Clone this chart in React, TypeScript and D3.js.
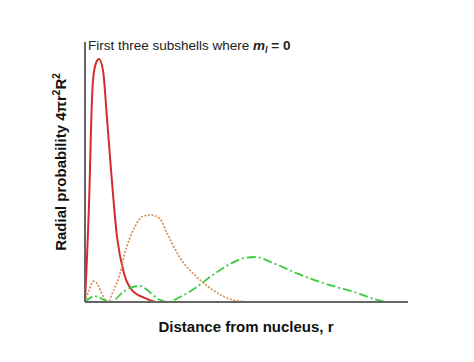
import { useEffect, useRef } from 'react';
import * as d3 from 'd3';

// r in units of a0, probability normalised to the 1s peak scale
const r1s = [0, 0.3, 0.52, 0.59, 0.82, 1.04, 1.34, 1.63, 1.93, 2.38, 2.9, 3.49, 4.46, 5.2];
const p1s = [0, 0.38, 0.78, 0.85, 0.92, 0.935, 0.89, 0.71, 0.51, 0.25, 0.11, 0.046, 0.015, 0];

const r2s = [0, 0.3, 0.67, 0.97, 1.26, 1.71, 2.08, 2.53, 2.97, 3.71, 4.31, 4.9, 5.57, 6.09, 7.06, 8.32, 9.51, 11.0, 12.26];
const p2s = [0, 0.046, 0.08, 0.065, 0.03, 0, 0.04, 0.096, 0.19, 0.29, 0.33, 0.335, 0.32, 0.265, 0.17, 0.096, 0.046, 0.008, 0];

const r3s = [0, 0.37, 0.67, 1.26, 1.86, 2.3, 2.75, 3.34, 4.01, 4.53, 5.05, 5.57, 6.09, 7.06, 8.32, 9.29, 10.77, 11.89, 12.63, 13.97, 15.75, 18.2, 20.2, 21.7, 22.4];
const p3s = [0, 0.015, 0.023, 0.012, 0, 0.012, 0.035, 0.054, 0.062, 0.05, 0.027, 0.008, 0, 0.019, 0.058, 0.096, 0.146, 0.17, 0.173, 0.15, 0.11, 0.065, 0.035, 0.008, 0];

const series = [
  { name: '1s', r: r1s, p: p1s, color: '#d42b2b', width: 2, dash: null },
  { name: '2s', r: r2s, p: p2s, color: '#d49258', width: 1.7, dash: '2,1.6' },
  { name: '3s', r: r3s, p: p3s, color: '#3ccb3c', width: 1.8, dash: '9,3,2,3' },
];

function App() {
  const ref = useRef(null);

  useEffect(() => {
    const svg = d3.select(ref.current);
    svg.selectAll('*').remove();

    const width = 474;
    const height = 362;
    const margin = { top: 42, right: 66, bottom: 60, left: 85 };

    svg.attr('width', width).attr('height', height);

    const x = d3.scaleLinear().domain([0, 24]).range([margin.left, width - margin.right]);
    const y = d3.scaleLinear().domain([0, 1]).range([height - margin.bottom, margin.top]);

    const line = d3.line()
      .x((d) => x(d[0]))
      .y((d) => y(d[1]))
      .curve(d3.curveMonotoneX);

    series.forEach((s) => {
      const pts = s.r.map((r, i) => [r, s.p[i]]);
      svg.append('path')
        .attr('d', line(pts))
        .attr('fill', 'none')
        .attr('stroke', s.color)
        .attr('stroke-width', s.width)
        .attr('stroke-dasharray', s.dash)
        .attr('stroke-linejoin', 'round');
    });

    // axes, plain lines with no ticks
    svg.append('line')
      .attr('x1', x(0)).attr('x2', x(0))
      .attr('y1', y(0)).attr('y2', y(1))
      .attr('stroke', '#666').attr('stroke-width', 2);
    svg.append('line')
      .attr('x1', x(0)).attr('x2', x(24))
      .attr('y1', y(0)).attr('y2', y(0))
      .attr('stroke', '#666').attr('stroke-width', 2);

    const font = 'Liberation Sans, Arial, sans-serif';

    const title = svg.append('text')
      .attr('x', 88).attr('y', 50)
      .attr('font-family', font).attr('font-size', 13.5)
      .attr('fill', '#222');
    title.append('tspan').text('First three subshells where ');
    title.append('tspan').attr('font-weight', 'bold').attr('font-style', 'italic').text('m');
    title.append('tspan').attr('font-weight', 'bold').attr('font-style', 'italic')
      .attr('font-size', 9).attr('dy', 3).text('l');
    title.append('tspan').attr('font-weight', 'bold').attr('dy', -3).text(' = 0');

    const yl = svg.append('text')
      .attr('transform', 'translate(66,162) rotate(-90)')
      .attr('text-anchor', 'middle')
      .attr('font-family', font).attr('font-size', 15).attr('font-weight', 'bold')
      .attr('fill', '#111');
    yl.append('tspan').text('Radial probability 4πr');
    yl.append('tspan').attr('font-size', 10).attr('dy', -6).text('2');
    yl.append('tspan').attr('dy', 6).text('R');
    yl.append('tspan').attr('font-size', 10).attr('dy', -6).text('2');

    svg.append('text')
      .attr('x', 246).attr('y', 332)
      .attr('text-anchor', 'middle')
      .attr('font-family', font).attr('font-size', 15).attr('font-weight', 'bold')
      .attr('fill', '#111')
      .text('Distance from nucleus, r');
  }, []);

  return <svg ref={ref} style={{ position: 'absolute', left: 0, top: 0 }}></svg>;
}

export default App;
